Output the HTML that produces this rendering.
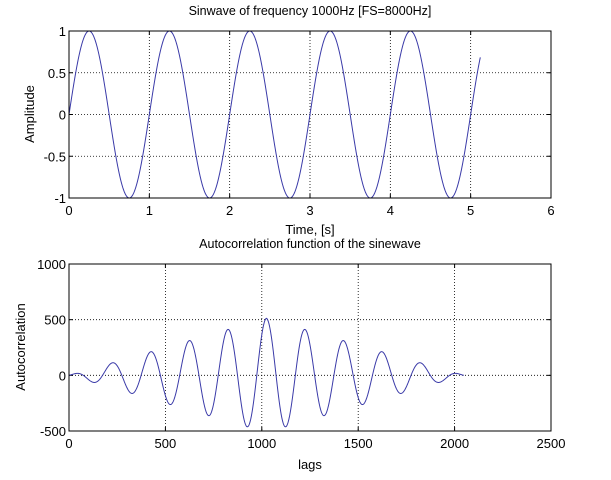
<!DOCTYPE html>
<html><head><meta charset="utf-8"><style>
body{margin:0;background:#fff;}
svg{display:block;font-family:"Liberation Sans",Arial,sans-serif;font-size:13px;}
</style></head><body>
<svg id="s" width="611" height="480" xmlns="http://www.w3.org/2000/svg">
<rect width="611" height="480" fill="#fff"/>
<g id="g"></g>
<text x="310" y="15" text-anchor="middle" font-size="12.5">Sinwave of frequency 1000Hz [FS=8000Hz]</text>
<text x="310" y="234" text-anchor="middle">Time, [s]</text>
<text x="34" y="114" text-anchor="middle" transform="rotate(-90 34 114)">Amplitude</text>
<text x="310" y="248" text-anchor="middle" font-size="12.5">Autocorrelation function of the sinewave</text>
<text x="310" y="469" text-anchor="middle">lags</text>
<text x="25" y="347" text-anchor="middle" transform="rotate(-90 25 347)">Autocorrelation</text>
</svg>
<script>
var g=document.getElementById('g'),h='';
function ax(x0,y0,x1,y1,xt,yt,xmin,xmax,ymin,ymax,fx,fy){
 var X=function(v){return x0+(v-xmin)/(xmax-xmin)*(x1-x0)},Y=function(v){return y1-(v-ymin)/(ymax-ymin)*(y1-y0)};
 xt.forEach(function(v){var x=X(v);
  if(v>xmin&&v<xmax)h+='<line x1="'+x+'" y1="'+y0+'" x2="'+x+'" y2="'+y1+'" stroke="#000" stroke-width="0.8" stroke-dasharray="1,2"/>';
  h+='<line x1="'+x+'" y1="'+y1+'" x2="'+x+'" y2="'+(y1-4)+'" stroke="#000"/><line x1="'+x+'" y1="'+y0+'" x2="'+x+'" y2="'+(y0+4)+'" stroke="#000"/>';
  h+='<text x="'+x+'" y="'+(y1+17)+'" text-anchor="middle">'+v+'</text>';});
 yt.forEach(function(v){var y=Y(v);
  if(v>ymin&&v<ymax)h+='<line x1="'+x0+'" y1="'+y+'" x2="'+x1+'" y2="'+y+'" stroke="#000" stroke-width="0.8" stroke-dasharray="1,2"/>';
  h+='<line x1="'+x0+'" y1="'+y+'" x2="'+(x0+4)+'" y2="'+y+'" stroke="#000"/><line x1="'+x1+'" y1="'+y+'" x2="'+(x1-4)+'" y2="'+y+'" stroke="#000"/>';
  h+='<text x="'+(x0-3)+'" y="'+(y+5)+'" text-anchor="end">'+v+'</text>';});
 var d='';
 for(var i=0;i<=fx.n;i++){var t=fx.a+(fx.b-fx.a)*i/fx.n;d+=(i?'L':'M')+X(t).toFixed(2)+' '+Y(fy(t)).toFixed(2);}
 h+='<path d="'+d+'" fill="none" stroke="#3a3aa8" stroke-width="1"/>';
 h+='<rect x="'+x0+'" y="'+y0+'" width="'+(x1-x0)+'" height="'+(y1-y0)+'" fill="none" stroke="#000"/>';
}
ax(69,31,551,198,[0,1,2,3,4,5,6],[-1,-0.5,0,0.5,1],0,6,-1,1,{a:0,b:5.12,n:1200},function(t){return Math.sin(2*Math.PI*t)});
ax(69,264,551,431,[0,500,1000,1500,2000,2500],[-500,0,500,1000],0,2500,-500,1000,{a:0,b:2048,n:2048},function(k){return 0.5*(1024-Math.abs(k-1024))*Math.cos(2*Math.PI*(k-1024)/200)});
g.innerHTML=h;
</script>
</body></html>
